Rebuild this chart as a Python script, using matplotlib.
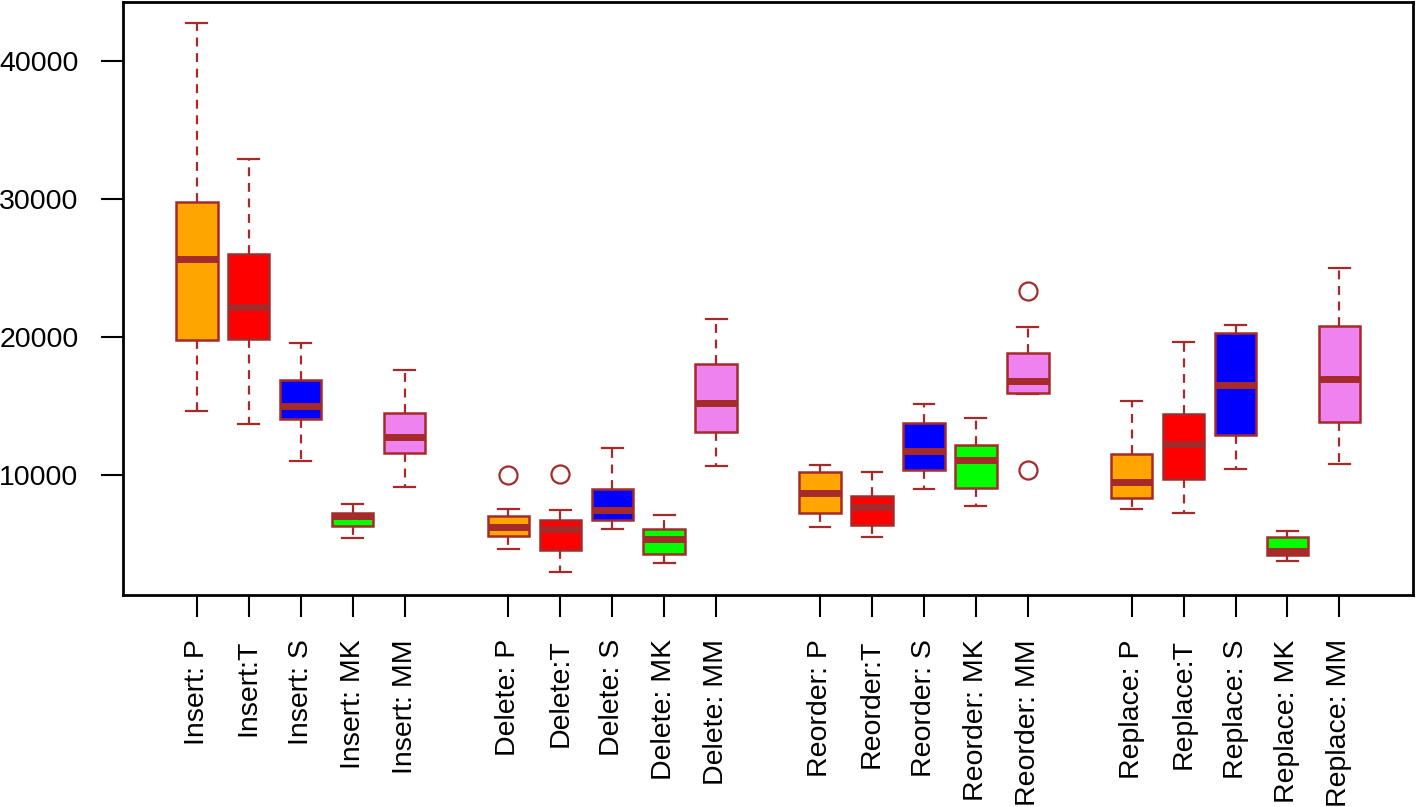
import numpy as np
import matplotlib.pyplot as plt

plt.rcParams['font.family'] = ['Liberation Sans', 'DejaVu Sans']

# 标签和位置
labels = ['Insert: P', 'Insert:T', 'Insert: S', 'Insert: MK', 'Insert: MM',
          'Delete: P', 'Delete:T', 'Delete: S', 'Delete: MK', 'Delete: MM',
          'Reorder: P', 'Reorder:T', 'Reorder: S', 'Reorder: MK', 'Reorder: MM',
          'Replace: P', 'Replace:T', 'Replace: S', 'Replace: MK', 'Replace: MM']
positions = [1, 2, 3, 4, 5, 7, 8, 9, 10, 11, 13, 14, 15, 16, 17, 19, 20, 21, 22, 23]

# 箱线图统计量
whislo = [14610, 13700, 11000, 5400, 9120,
          4640, 2950, 6060, 3600, 10650,
          6210, 5510, 8960, 7730, 15890,
          7540, 7220, 10390, 3720, 10780]
q1 = [19780, 19880, 14030, 6260, 11610,
      5530, 4520, 6690, 4280, 13140,
      7220, 6350, 10340, 9040, 15960,
      8310, 9690, 12870, 4180, 13820]
med = [25650, 22150, 14970, 7020, 12750,
       6210, 6090, 7460, 5360, 15190,
       8670, 7680, 11740, 11040, 16810,
       9470, 12220, 16500, 4490, 16930]
q3 = [29780, 26040, 16910, 7250, 14470,
      7030, 6690, 8990, 6060, 18040,
      10220, 8460, 13740, 12150, 18820,
      11520, 14420, 20270, 5510, 20770]
whishi = [42750, 32910, 19540, 7870, 17610,
          7510, 7440, 11930, 7080, 21280,
          10700, 10220, 15120, 14110, 20750,
          15360, 19610, 20850, 5900, 24980]
fliers = [[], [], [], [], [],
          [10020], [10050], [], [], [],
          [], [], [], [], [23330, 10340],
          [], [], [], [], []]

colors = ['orange', 'red', 'blue', '#00ff00', 'violet'] * 4
edge = 'brown'

stats = []
for i in range(len(labels)):
    stats.append(dict(whislo=whislo[i], q1=q1[i], med=med[i], q3=q3[i],
                      whishi=whishi[i], fliers=fliers[i], label=labels[i]))

fig = plt.figure(figsize=(14.19, 8.07), dpi=100)
ax = fig.add_axes([0.0867, 0.263, 0.9092, 0.7345])

bp = ax.bxp(stats, positions=positions, widths=0.8, capwidths=0.4,
            patch_artist=True, showfliers=True,
            boxprops=dict(edgecolor=edge, linewidth=1.8),
            medianprops=dict(color=edge, linewidth=5, solid_capstyle='butt'),
            whiskerprops=dict(color=edge, linewidth=1.6, linestyle=(0, (4, 3))),
            capprops=dict(color=edge, linewidth=1.6),
            flierprops=dict(marker='o', markerfacecolor='none', markeredgecolor=edge,
                            markersize=13, markeredgewidth=1.6))
for patch, c in zip(bp['boxes'], colors):
    patch.set_facecolor(c)

ax.set_xlim(-0.42, 24.42)
ax.set_ylim(1300, 44300)
ax.set_yticks([10000, 20000, 30000, 40000])
ax.set_xticks(positions)
ax.set_xticklabels(labels, rotation=90)
ax.tick_params(axis='both', labelsize=20.5, length=16, width=1.5, pad=16, direction='out')
for s in ax.spines.values():
    s.set_linewidth(2)

plt.savefig('out.png', dpi=100)
